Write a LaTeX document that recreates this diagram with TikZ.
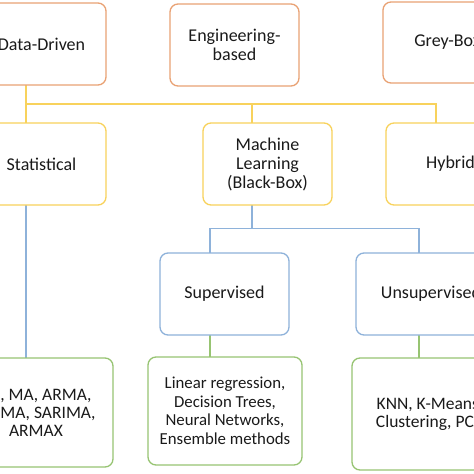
\documentclass[tikz,border=0pt]{standalone}
\usepackage{fontspec}
\setmainfont{Carlito}
\definecolor{borange}{HTML}{E9A274}
\definecolor{byellow}{HTML}{F8D25C}
\definecolor{bblue}{HTML}{8EB2DA}
\definecolor{bgreen}{HTML}{97C472}
\definecolor{txt}{HTML}{1A1A1A}
\tikzset{
  box/.style={draw, rounded corners=8pt, line width=1.3pt, fill=white, text=txt, align=center,
    font=\fontsize{18}{19}\selectfont, inner sep=0pt},
  obox/.style={box, draw=borange},
  ybox/.style={box, draw=byellow},
  bbox/.style={box, draw=bblue},
  gbox/.style={box, draw=bgreen, font=\fontsize{16.8}{18.5}\selectfont},
  yl/.style={draw=byellow, line width=1.5pt},
  bl/.style={draw=bblue, line width=1.4pt},
  gl/.style={draw=bgreen, line width=1.4pt}
}
\begin{document}
\begin{tikzpicture}[x=1pt,y=-1pt]
\useasboundingbox (0,0) rectangle (474,474);
\clip (0,0) rectangle (474,474);
\fill[white] (0,0) rectangle (474,474);
% column coordinates
\coordinate (cA) at (26,0);
\coordinate (cB) at (252,0);
\coordinate (cC) at (436,0);
\coordinate (cD) at (210,0);
\coordinate (cE) at (419,0);
\coordinate (bus1) at (0,104);
\coordinate (bus2) at (0,228.5);
% connectors (drawn first, boxes cover ends)
\path[yl] (cA |- 0,85) -- (cA |- 0,123);
\path[yl] (cA |- bus1) -- (cC |- bus1) -- (cC |- 0,123);
\path[yl] (cB |- bus1) -- (cB |- 0,123);
\path[bl] (cA |- 0,205) -- (cA |- 0,358);
\path[bl] (cB |- 0,205) -- (cB |- bus2);
\path[bl] (cD |- 0,253) -- (cD |- bus2) -- (cE |- bus2) -- (cE |- 0,253);
\path[gl] (cD |- 0,335) -- (cD |- 0,357);
\path[gl] (cE |- 0,335) -- (cE |- 0,358);
% row 1
\node[obox, minimum width=129pt, minimum height=82pt] (dd) at (41.5,44) {Data-Driven};
\node[obox, minimum width=129pt, minimum height=82pt] (eb) at (234.5,45) {Engineering-\\based};
\node[obox, minimum width=129pt, minimum height=81pt] (gb) at (447.5,42.5) {Grey-Box};
% row 2
\node[ybox, minimum width=129pt, minimum height=82pt] (st) at (41.5,164) {Statistical};
\node[ybox, minimum width=129pt, minimum height=82pt] (ml) at (267.5,164) {Machine\\Learning\\(Black-Box)};
\node[ybox, minimum width=129pt, minimum height=82pt] (hy) at (450.5,164) {Hybrid};
% row 3
\node[bbox, minimum width=129pt, minimum height=82pt] (sup) at (224.5,294) {Supervised};
\node[bbox, minimum width=150pt, minimum height=82pt] (uns) at (431,294) {Unsupervised};
% row 4
\node[gbox, minimum width=154pt, minimum height=109pt, font=\fontsize{17.5}{18}\selectfont] (ar) at (36,412.5) {AR, MA, ARMA,\\ARIMA, SARIMA,\\ARMAX};
\node[gbox, minimum width=154pt, minimum height=108pt] (lr) at (225,411) {Linear regression,\\Decision Trees,\\Neural Networks,\\Ensemble methods};
\node[gbox, minimum width=156pt, minimum height=112pt, font=\fontsize{17.5}{18}\selectfont] (kn) at (430,414) {KNN, K-Means,\\Clustering, PCA};
\end{tikzpicture}
\end{document}
